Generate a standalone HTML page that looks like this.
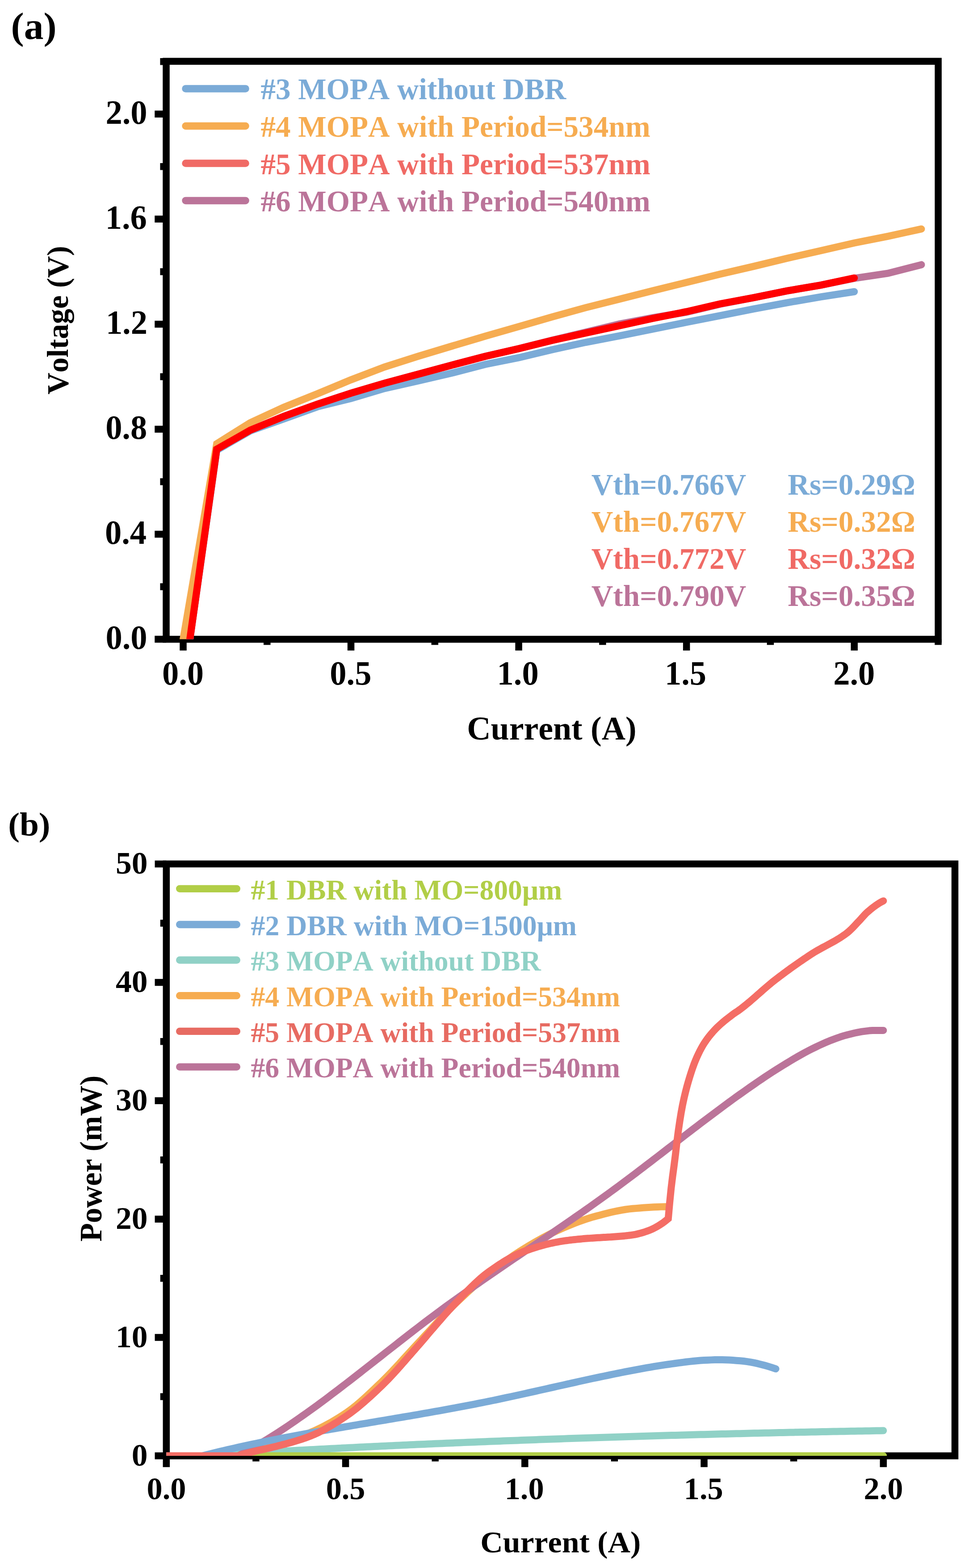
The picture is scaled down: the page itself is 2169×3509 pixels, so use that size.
<!DOCTYPE html>
<html lang="en"><head><meta charset="utf-8"><title>Figure: V-I and P-I characteristics</title>
<style>html,body{margin:0;padding:0;background:#fff}svg{display:block}text{font-family:"Liberation Serif", "DejaVu Serif", serif;font-weight:bold;white-space:pre;font-kerning:none}</style></head><body>
<svg xmlns="http://www.w3.org/2000/svg" width="2169" height="3509" viewBox="0 0 2169 3509">
<rect width="2169" height="3509" fill="#fff"/>
<defs>
<clipPath id="ca"><rect x="372" y="137.2" width="1728.1" height="1293.4"/></clipPath>
<clipPath id="cb"><rect x="372.3" y="1933.4" width="1765.2" height="1324.6"/></clipPath>
</defs>
<text transform="translate(24.57 87.2) scale(1.0251 1)" font-size="85.3" fill="#000">(a)</text>
<rect x="372" y="137.2" width="1728.1" height="1293.4" fill="none" stroke="#000" stroke-width="15.5"/>
<path d="M410 1430.6V1455.75M785.55 1430.6V1455.75M1161.1 1430.6V1455.75M1536.65 1430.6V1455.75M1912.2 1430.6V1455.75M597.77 1430.6V1443.15M973.33 1430.6V1443.15M1348.88 1430.6V1443.15M1724.42 1430.6V1443.15M2099.98 1430.6V1443.15M372 1430.6H346.25M372 1195.54H346.25M372 960.48H346.25M372 725.42H346.25M372 490.36H346.25M372 255.3H346.25M372 1313.07H358.45M372 1078.01H358.45M372 842.95H358.45M372 607.89H358.45M372 372.83H358.45M372 137.77H358.45" fill="none" stroke="#000" stroke-width="15.5"/>
<text transform="translate(362.96 1532) scale(0.9670 1)" font-size="77" fill="#000">0.0</text>
<text transform="translate(738.33 1532) scale(0.9670 1)" font-size="77" fill="#000">0.5</text>
<text transform="translate(1112.57 1532) scale(0.9670 1)" font-size="77" fill="#000">1.0</text>
<text transform="translate(1487.94 1532) scale(0.9670 1)" font-size="77" fill="#000">1.5</text>
<text transform="translate(1865.16 1532) scale(0.9670 1)" font-size="77" fill="#000">2.0</text>
<text transform="translate(236.5 1452.2) scale(0.9670 1)" font-size="77" fill="#000">0.0</text>
<text transform="translate(235.02 1217.14) scale(0.9670 1)" font-size="77" fill="#000">0.4</text>
<text transform="translate(236.13 982.08) scale(0.9670 1)" font-size="77" fill="#000">0.8</text>
<text transform="translate(236.88 747.02) scale(0.9670 1)" font-size="77" fill="#000">1.2</text>
<text transform="translate(235.76 511.96) scale(0.9670 1)" font-size="77" fill="#000">1.6</text>
<text transform="translate(236.5 276.9) scale(0.9670 1)" font-size="77" fill="#000">2.0</text>
<text transform="translate(1045.21 1654.9) scale(0.9876 1)" font-size="74.8" fill="#000">Current (A)</text>
<text transform="translate(151.8 882.68) rotate(-90) scale(1.0050 1)" font-size="67.3" fill="#000">Voltage (V)</text>
<g clip-path="url(#ca)">
<path d="M425.02 1430.6L485.11 1007.49L560.22 964.3L635.33 937.44L710.44 910.35L785.55 891.72L860.66 869.45L935.77 852.35L1010.88 835.08L1085.99 815.45L1161.1 800.46L1236.21 782.42L1311.32 766.03L1386.43 751.63L1461.54 736.29L1536.65 721.19L1611.76 706.32L1686.87 691.4L1761.98 677.29L1837.09 664.3L1912.2 652.73" fill="none" stroke="#7BABD7" stroke-width="16" stroke-linecap="round" stroke-linejoin="miter"/>
<path d="M425.02 1430.6L485.11 1005.38L560.22 962.6L635.33 931.8L710.44 904.54L785.55 879.8L860.66 857.58L935.77 837.54L1010.88 817.21L1085.99 797.47L1161.1 780.19L1236.21 761.27L1311.32 743.4L1386.43 725.18L1461.54 710.96L1536.65 698.62L1611.76 680.76L1686.87 666.07L1761.98 650.96L1837.09 638.04L1912.2 622.88L1987.31 611.71L2062.42 592.38" fill="none" stroke="#BB7499" stroke-width="16" stroke-linecap="round" stroke-linejoin="miter"/>
<path d="M410 1430.6L485.11 993.09L560.22 945.97L635.33 911.35L710.44 881.21L785.55 849.94L860.66 821.32L935.77 797.29L1010.88 774.78L1085.99 752.45L1161.1 730.83L1236.21 709.08L1311.32 688.4L1386.43 669.48L1461.54 650.61L1536.65 631.98L1611.76 613.41L1686.87 596.14L1761.98 577.98L1837.09 561L1912.2 543.72L1987.31 528.85L2062.42 512.4" fill="none" stroke="#F6AC51" stroke-width="16" stroke-linecap="round" stroke-linejoin="miter"/>
<path d="M425.02 1430.6L485.11 1005.38L560.22 962.6L635.33 931.8L710.44 904.54L785.55 879.8L860.66 857.58L935.77 837.54L1010.88 817.21L1085.99 797.47L1161.1 780.19L1236.21 761.8L1311.32 745.17L1386.43 728.83L1461.54 712.49L1536.65 697.45L1611.76 679.99L1686.87 666.07L1761.98 650.96L1837.09 638.04L1912.2 622.17" fill="none" stroke="#FF0000" stroke-width="16" stroke-linecap="round" stroke-linejoin="miter"/>
</g>
<line x1="415.55" y1="198.4" x2="549.55" y2="198.4" stroke="#7BABD7" stroke-width="16.5" stroke-linecap="round"/>
<text transform="translate(583.39 222.4) scale(0.9924 1)" font-size="67.6" fill="#7BABD7">#3 MOPA without DBR</text>
<line x1="415.55" y1="282" x2="549.55" y2="282" stroke="#F6AC51" stroke-width="16.5" stroke-linecap="round"/>
<text transform="translate(583.39 306) scale(0.9939 1)" font-size="67.6" fill="#F6AC51">#4 MOPA with Period=534nm</text>
<line x1="415.55" y1="365.5" x2="549.55" y2="365.5" stroke="#F06A65" stroke-width="16.5" stroke-linecap="round"/>
<text transform="translate(583.39 389.5) scale(0.9939 1)" font-size="67.6" fill="#F06A65">#5 MOPA with Period=537nm</text>
<line x1="415.55" y1="448.9" x2="549.55" y2="448.9" stroke="#BB7499" stroke-width="16.5" stroke-linecap="round"/>
<text transform="translate(583.39 472.9) scale(0.9939 1)" font-size="67.6" fill="#BB7499">#6 MOPA with Period=540nm</text>
<text transform="translate(1323.83 1106.8) scale(0.9990 1)" font-size="67.3" fill="#7BABD7">Vth=0.766V</text>
<text transform="translate(1763.29 1106.8) scale(1.0027 1)" font-size="67.3" fill="#7BABD7">Rs=0.29Ω</text>
<text transform="translate(1323.83 1189.8) scale(0.9990 1)" font-size="67.3" fill="#F6AC51">Vth=0.767V</text>
<text transform="translate(1763.29 1189.8) scale(1.0027 1)" font-size="67.3" fill="#F6AC51">Rs=0.32Ω</text>
<text transform="translate(1323.83 1273.2) scale(0.9990 1)" font-size="67.3" fill="#F06A65">Vth=0.772V</text>
<text transform="translate(1763.29 1273.2) scale(1.0027 1)" font-size="67.3" fill="#F06A65">Rs=0.32Ω</text>
<text transform="translate(1323.83 1356.3) scale(0.9990 1)" font-size="67.3" fill="#BB7499">Vth=0.790V</text>
<text transform="translate(1763.29 1356.3) scale(1.0027 1)" font-size="67.3" fill="#BB7499">Rs=0.35Ω</text>
<text transform="translate(18.23 1870) scale(1.0374 1)" font-size="74.4" fill="#000">(b)</text>
<rect x="372.3" y="1933.4" width="1765.2" height="1324.6" fill="none" stroke="#000" stroke-width="15.5"/>
<path d="M372.3 3258V3283.15M773.55 3258V3283.15M1174.8 3258V3283.15M1576.05 3258V3283.15M1977.3 3258V3283.15M572.92 3258V3270.55M974.17 3258V3270.55M1375.42 3258V3270.55M1776.67 3258V3270.55M372.3 3258H346.55M372.3 2993.1H346.55M372.3 2728.2H346.55M372.3 2463.3H346.55M372.3 2198.4H346.55M372.3 1933.5H346.55M372.3 3125.55H358.75M372.3 2860.65H358.75M372.3 2595.75H358.75M372.3 2330.85H358.75M372.3 2065.95H358.75" fill="none" stroke="#000" stroke-width="15.5"/>
<text transform="translate(328.56 3354.7)" font-size="70.3" fill="#000">0.0</text>
<text transform="translate(729.64 3354.7)" font-size="70.3" fill="#000">0.5</text>
<text transform="translate(1129.66 3354.7)" font-size="70.3" fill="#000">1.0</text>
<text transform="translate(1530.73 3354.7)" font-size="70.3" fill="#000">1.5</text>
<text transform="translate(1933.56 3354.7)" font-size="70.3" fill="#000">2.0</text>
<text transform="translate(294.69 3279.5) scale(1.0280 1)" font-size="69.6" fill="#000">0</text>
<text transform="translate(258.91 3014.6) scale(1.0280 1)" font-size="69.6" fill="#000">10</text>
<text transform="translate(258.91 2749.7) scale(1.0280 1)" font-size="69.6" fill="#000">20</text>
<text transform="translate(258.91 2484.8) scale(1.0280 1)" font-size="69.6" fill="#000">30</text>
<text transform="translate(258.91 2219.9) scale(1.0280 1)" font-size="69.6" fill="#000">40</text>
<text transform="translate(258.91 1955) scale(1.0280 1)" font-size="69.6" fill="#000">50</text>
<text transform="translate(1075.2 3473.6) scale(1.0179 1)" font-size="68.7" fill="#000">Current (A)</text>
<text transform="translate(227 2778.62) rotate(-90) scale(0.9839 1)" font-size="69.1" fill="#000">Power (mW)</text>
<g clip-path="url(#cb)">
<path d="M372.3 3258L452.55 3258L460.58 3257.51L468.6 3257.02L476.62 3256.53L484.65 3256.05L492.68 3255.57L500.7 3255.09L508.73 3254.61L516.75 3254.14L524.77 3253.67L532.8 3253.2L540.83 3252.73L548.85 3252.27L556.88 3251.8L564.9 3251.34L572.92 3250.89L580.95 3250.43L588.98 3249.98L597 3249.53L605.03 3249.08L613.05 3248.63L621.08 3248.19L629.1 3247.75L637.12 3247.31L645.15 3246.87L653.17 3246.44L661.2 3246L669.23 3245.57L677.25 3245.14L685.28 3244.72L693.3 3244.3L701.33 3243.87L709.35 3243.46L717.38 3243.04L725.4 3242.62L733.43 3242.21L741.45 3241.8L749.47 3241.39L757.5 3240.99L765.52 3240.58L773.55 3240.18L781.58 3239.78L789.6 3239.39L797.62 3238.99L805.65 3238.6L813.68 3238.21L821.7 3237.82L829.73 3237.44L837.75 3237.05L845.77 3236.67L853.8 3236.29L861.83 3235.91L869.85 3235.54L877.88 3235.16L885.9 3234.79L893.92 3234.42L901.95 3234.06L909.98 3233.69L918 3233.33L926.02 3232.97L934.05 3232.61L942.08 3232.25L950.1 3231.9L958.12 3231.55L966.15 3231.19L974.17 3230.85L982.2 3230.5L990.23 3230.16L998.25 3229.81L1006.28 3229.47L1014.3 3229.14L1022.33 3228.8L1030.35 3228.46L1038.38 3228.13L1046.4 3227.8L1054.42 3227.47L1062.45 3227.15L1070.47 3226.82L1078.5 3226.5L1086.53 3226.18L1094.55 3225.86L1102.58 3225.55L1110.6 3225.23L1118.62 3224.92L1126.65 3224.61L1134.67 3224.3L1142.7 3223.99L1150.72 3223.69L1158.75 3223.39L1166.78 3223.09L1174.8 3222.79L1182.83 3222.49L1190.85 3222.19L1198.88 3221.9L1206.9 3221.61L1214.92 3221.32L1222.95 3221.03L1230.98 3220.75L1239 3220.46L1247.03 3220.18L1255.05 3219.9L1263.08 3219.62L1271.1 3219.35L1279.12 3219.07L1287.15 3218.8L1295.18 3218.53L1303.2 3218.26L1311.23 3217.99L1319.25 3217.73L1327.28 3217.46L1335.3 3217.2L1343.33 3216.94L1351.35 3216.68L1359.38 3216.43L1367.4 3216.17L1375.43 3215.92L1383.45 3215.67L1391.48 3215.42L1399.5 3215.17L1407.53 3214.92L1415.55 3214.68L1423.58 3214.44L1431.6 3214.2L1439.62 3213.96L1447.65 3213.72L1455.67 3213.48L1463.7 3213.25L1471.73 3213.02L1479.75 3212.79L1487.78 3212.56L1495.8 3212.33L1503.83 3212.11L1511.85 3211.88L1519.88 3211.66L1527.9 3211.44L1535.93 3211.22L1543.95 3211L1551.98 3210.79L1560 3210.57L1568.03 3210.36L1576.05 3210.15L1584.08 3209.94L1592.1 3209.73L1600.12 3209.53L1608.15 3209.32L1616.17 3209.12L1624.2 3208.92L1632.22 3208.72L1640.25 3208.52L1648.28 3208.33L1656.3 3208.13L1664.33 3207.94L1672.35 3207.75L1680.38 3207.56L1688.4 3207.37L1696.42 3207.18L1704.45 3207L1712.48 3206.81L1720.5 3206.63L1728.53 3206.45L1736.55 3206.27L1744.58 3206.09L1752.6 3205.92L1760.63 3205.74L1768.65 3205.57L1776.68 3205.4L1784.7 3205.23L1792.72 3205.06L1800.75 3204.89L1808.78 3204.73L1816.8 3204.56L1824.83 3204.4L1832.85 3204.24L1840.88 3204.08L1848.9 3203.92L1856.92 3203.76L1864.95 3203.61L1872.98 3203.45L1881 3203.3L1889.03 3203.15L1897.05 3203L1905.08 3202.85L1913.1 3202.7L1921.12 3202.56L1929.15 3202.41L1937.18 3202.27L1945.2 3202.13L1953.23 3201.99L1961.25 3201.85L1969.28 3201.71L1977.3 3201.58" fill="none" stroke="#90D1C6" stroke-width="16" stroke-linecap="round" stroke-linejoin="round"/>
<path d="M372.3 3258L1977.3 3258" fill="none" stroke="#B1CE47" stroke-width="16" stroke-linecap="round" stroke-linejoin="round"/>
<path d="M372.3 3258L532.8 3258L540.83 3255.63L548.85 3253.23L556.88 3250.81L564.9 3248.37L572.92 3245.91L580.95 3243.43L588.98 3240.93L597 3238.4L605.03 3235.85L613.05 3233.29L621.08 3230.75L629.1 3228.26L637.12 3225.78L645.15 3223.3L653.17 3220.77L661.2 3218.17L669.23 3215.46L677.25 3212.61L685.28 3209.59L693.3 3206.37L701.33 3202.94L709.35 3199.29L717.38 3195.44L725.4 3191.38L733.42 3187.11L741.45 3182.64L749.48 3177.97L757.5 3173.09L765.52 3168.02L773.55 3162.75L781.58 3157.13L789.6 3151.07L797.62 3144.61L805.65 3137.81L813.68 3130.73L821.7 3123.41L829.73 3115.92L837.75 3108.3L845.78 3100.62L853.8 3092.93L861.83 3085.08L869.85 3076.95L877.88 3068.57L885.9 3060.01L893.92 3051.3L901.95 3042.52L909.98 3033.7L918 3024.9L926.02 3016.17L934.05 3007.57L942.08 2998.97L950.1 2990.29L958.12 2981.54L966.15 2972.79L974.17 2964.06L982.2 2955.41L990.23 2946.87L998.25 2938.49L1006.28 2930.3L1014.3 2922.35L1022.33 2914.58L1030.35 2906.89L1038.38 2899.31L1046.4 2891.83L1054.43 2884.49L1062.45 2877.29L1070.48 2870.25L1078.5 2863.39L1086.53 2856.71L1094.55 2850.23L1102.58 2843.92L1110.6 2837.71L1118.62 2831.63L1126.65 2825.67L1134.67 2819.86L1142.7 2814.19L1150.72 2808.68L1158.75 2803.34L1166.78 2798.17L1174.8 2793.19L1182.83 2788.34L1190.85 2783.6L1198.88 2778.95L1206.9 2774.43L1214.92 2770.04L1222.95 2765.79L1230.98 2761.7L1239 2757.76L1247.03 2754.01L1255.05 2750.44L1263.08 2747L1271.1 2743.64L1279.12 2740.36L1287.15 2737.18L1295.18 2734.13L1303.2 2731.21L1311.22 2728.45L1319.25 2725.86L1327.27 2723.45L1335.3 2721.24L1343.33 2719.14L1351.35 2717.06L1359.38 2715.04L1367.4 2713.09L1375.42 2711.26L1383.45 2709.58L1391.48 2708.06L1399.5 2706.74L1407.53 2705.64L1415.55 2704.81L1423.58 2704.12L1431.6 2703.46L1439.62 2702.83L1447.65 2702.25L1455.67 2701.73L1463.7 2701.27L1471.72 2700.9L1479.75 2700.62L1487.77 2700.45L1495.8 2700.39" fill="none" stroke="#F6AC51" stroke-width="16" stroke-linecap="round" stroke-linejoin="round"/>
<path d="M372.3 3258L532.8 3258L540.83 3253.73L548.85 3249.36L556.88 3244.92L564.9 3240.39L572.92 3235.78L580.95 3231.09L588.98 3226.33L597 3221.49L605.03 3216.58L613.05 3211.6L621.08 3206.52L629.1 3201.33L637.12 3196.04L645.15 3190.65L653.17 3185.18L661.2 3179.65L669.23 3174.05L677.25 3168.41L685.28 3162.73L693.3 3157.02L701.33 3151.26L709.35 3145.42L717.38 3139.51L725.4 3133.55L733.42 3127.53L741.45 3121.47L749.48 3115.38L757.5 3109.27L765.52 3103.14L773.55 3097.01L781.58 3090.85L789.6 3084.65L797.62 3078.4L805.65 3072.13L813.68 3065.83L821.7 3059.53L829.73 3053.21L837.75 3046.9L845.78 3040.61L853.8 3034.33L861.83 3028.06L869.85 3021.77L877.88 3015.48L885.9 3009.19L893.92 3002.9L901.95 2996.63L909.98 2990.37L918 2984.13L926.02 2977.92L934.05 2971.74L942.08 2965.59L950.1 2959.47L958.12 2953.39L966.15 2947.34L974.17 2941.34L982.2 2935.37L990.23 2929.44L998.25 2923.55L1006.28 2917.7L1014.3 2911.9L1022.33 2906.13L1030.35 2900.4L1038.38 2894.7L1046.4 2889.02L1054.43 2883.36L1062.45 2877.73L1070.48 2872.12L1078.5 2866.52L1086.53 2860.94L1094.55 2855.38L1102.58 2849.83L1110.6 2844.32L1118.62 2838.82L1126.65 2833.35L1134.67 2827.89L1142.7 2822.44L1150.72 2817L1158.75 2811.55L1166.78 2806.11L1174.8 2800.65L1182.83 2795.19L1190.85 2789.75L1198.88 2784.31L1206.9 2778.88L1214.92 2773.45L1222.95 2768.01L1230.98 2762.55L1239 2757.09L1247.03 2751.6L1255.05 2746.09L1263.08 2740.55L1271.1 2735.01L1279.12 2729.46L1287.15 2723.9L1295.18 2718.31L1303.2 2712.71L1311.22 2707.09L1319.25 2701.44L1327.27 2695.77L1335.3 2690.08L1343.33 2684.34L1351.35 2678.57L1359.38 2672.75L1367.4 2666.9L1375.42 2661.02L1383.45 2655.1L1391.48 2649.14L1399.5 2643.15L1407.53 2637.14L1415.55 2631.1L1423.58 2625.04L1431.6 2618.94L1439.62 2612.83L1447.65 2606.69L1455.67 2600.54L1463.7 2594.38L1471.72 2588.22L1479.75 2582.05L1487.77 2575.86L1495.8 2569.68L1503.82 2563.5L1511.85 2557.31L1519.88 2551.12L1527.9 2544.92L1535.92 2538.74L1543.95 2532.57L1551.97 2526.42L1560 2520.29L1568.02 2514.2L1576.05 2508.14L1584.08 2502.1L1592.1 2496.06L1600.12 2490.04L1608.15 2484.04L1616.17 2478.06L1624.2 2472.12L1632.22 2466.23L1640.25 2460.38L1648.28 2454.6L1656.3 2448.88L1664.32 2443.2L1672.35 2437.54L1680.37 2431.9L1688.4 2426.31L1696.42 2420.77L1704.45 2415.3L1712.47 2409.9L1720.5 2404.59L1728.52 2399.39L1736.55 2394.3L1744.57 2389.28L1752.6 2384.29L1760.62 2379.36L1768.65 2374.49L1776.67 2369.7L1784.7 2365.02L1792.72 2360.46L1800.75 2356.03L1808.78 2351.76L1816.8 2347.66L1824.83 2343.7L1832.85 2339.86L1840.88 2336.17L1848.9 2332.65L1856.92 2329.33L1864.95 2326.23L1872.97 2323.27L1881 2320.47L1889.02 2317.91L1897.05 2315.68L1905.07 2313.67L1913.1 2311.78L1921.12 2310.09L1929.15 2308.66L1937.17 2307.56L1945.2 2306.6L1953.22 2305.99L1961.25 2305.95L1969.27 2305.95L1977.3 2305.95" fill="none" stroke="#BB7499" stroke-width="16" stroke-linecap="round" stroke-linejoin="round"/>
<path d="M372.3 3258L452.55 3258L460.58 3255.97L468.6 3253.96L476.62 3251.99L484.65 3250.05L492.68 3248.13L500.7 3246.24L508.73 3244.37L516.75 3242.52L524.77 3240.69L532.8 3238.88L540.83 3237.1L548.85 3235.34L556.88 3233.61L564.9 3231.9L572.92 3230.21L580.95 3228.54L588.98 3226.89L597 3225.25L605.02 3223.64L613.05 3222.05L621.07 3220.48L629.1 3218.92L637.12 3217.38L645.15 3215.85L653.17 3214.33L661.2 3212.83L669.23 3211.34L677.25 3209.85L685.28 3208.38L693.3 3206.92L701.32 3205.48L709.35 3204.04L717.38 3202.62L725.4 3201.21L733.42 3199.81L741.45 3198.42L749.47 3197.03L757.5 3195.65L765.52 3194.27L773.55 3192.9L781.57 3191.53L789.6 3190.16L797.62 3188.81L805.65 3187.46L813.67 3186.11L821.7 3184.77L829.72 3183.42L837.75 3182.08L845.77 3180.73L853.8 3179.38L861.82 3178.02L869.85 3176.67L877.88 3175.32L885.9 3173.97L893.92 3172.62L901.95 3171.26L909.97 3169.9L918 3168.53L926.02 3167.15L934.05 3165.77L942.07 3164.37L950.1 3162.97L958.12 3161.57L966.15 3160.15L974.17 3158.74L982.2 3157.31L990.22 3155.87L998.25 3154.41L1006.27 3152.95L1014.3 3151.46L1022.32 3149.97L1030.35 3148.46L1038.38 3146.94L1046.4 3145.4L1054.42 3143.85L1062.45 3142.29L1070.47 3140.71L1078.5 3139.11L1086.52 3137.51L1094.55 3135.88L1102.57 3134.23L1110.6 3132.56L1118.62 3130.87L1126.65 3129.16L1134.67 3127.44L1142.7 3125.7L1150.72 3123.96L1158.75 3122.21L1166.77 3120.45L1174.8 3118.69L1182.82 3116.93L1190.85 3115.15L1198.87 3113.35L1206.9 3111.55L1214.92 3109.74L1222.95 3107.93L1230.97 3106.12L1239 3104.32L1247.02 3102.52L1255.05 3100.73L1263.07 3098.95L1271.1 3097.16L1279.12 3095.37L1287.15 3093.58L1295.17 3091.8L1303.2 3090.03L1311.22 3088.27L1319.25 3086.52L1327.27 3084.8L1335.3 3083.09L1343.33 3081.41L1351.35 3079.72L1359.38 3078.05L1367.4 3076.38L1375.42 3074.73L1383.45 3073.11L1391.48 3071.51L1399.5 3069.93L1407.52 3068.39L1415.55 3066.89L1423.57 3065.4L1431.6 3063.92L1439.62 3062.45L1447.65 3060.99L1455.67 3059.57L1463.7 3058.18L1471.72 3056.84L1479.75 3055.57L1487.77 3054.35L1495.8 3053.22L1503.82 3052.11L1511.85 3051L1519.88 3049.89L1527.9 3048.81L1535.92 3047.78L1543.95 3046.83L1551.97 3045.96L1560 3045.2L1568.02 3044.58L1576.05 3044.11L1584.07 3043.72L1592.1 3043.37L1600.12 3043.1L1608.15 3042.96L1616.17 3043.02L1624.2 3043.24L1632.22 3043.61L1640.25 3044.09L1648.27 3044.65L1656.3 3045.26L1664.32 3046.02L1672.35 3047.07L1680.37 3048.37L1688.4 3049.91L1696.42 3051.68L1704.45 3053.66L1712.47 3055.83L1720.5 3058.17L1728.52 3060.67L1736.55 3063.3" fill="none" stroke="#7BABD7" stroke-width="16" stroke-linecap="round" stroke-linejoin="round"/>
<path d="M372.3 3258L532.8 3258L536.01 3257.08L539.22 3256.17L542.43 3255.27L545.64 3254.37L548.85 3253.49L552.06 3252.62L555.27 3251.76L558.48 3250.91L561.69 3250.07L564.9 3249.24L568.11 3248.43L571.32 3247.62L574.53 3246.83L577.74 3246.06L580.95 3245.32L584.16 3244.6L587.37 3243.89L590.58 3243.19L593.79 3242.49L597 3241.78L600.21 3241.07L603.42 3240.34L606.63 3239.6L609.84 3238.83L613.05 3238.03L616.26 3237.21L619.47 3236.39L622.68 3235.58L625.89 3234.76L629.1 3233.93L632.31 3233.1L635.52 3232.26L638.73 3231.42L641.94 3230.56L645.15 3229.69L648.36 3228.81L651.57 3227.92L654.78 3227L657.99 3226.07L661.2 3225.13L664.41 3224.16L667.62 3223.17L670.83 3222.15L674.04 3221.11L677.25 3220.05L680.46 3218.95L683.67 3217.83L686.88 3216.68L690.09 3215.49L693.3 3214.27L696.51 3213.01L699.72 3211.69L702.93 3210.31L706.14 3208.89L709.35 3207.42L712.56 3205.9L715.77 3204.33L718.98 3202.71L722.19 3201.06L725.4 3199.36L728.61 3197.62L731.82 3195.84L735.03 3194.03L738.24 3192.18L741.45 3190.3L744.66 3188.38L747.87 3186.43L751.08 3184.45L754.29 3182.45L757.5 3180.42L760.71 3178.36L763.92 3176.29L767.13 3174.18L770.34 3172.06L773.55 3169.93L776.76 3167.75L779.97 3165.51L783.18 3163.21L786.39 3160.85L789.6 3158.44L792.81 3155.97L796.02 3153.46L799.23 3150.89L802.44 3148.28L805.65 3145.63L808.86 3142.93L812.07 3140.19L815.28 3137.42L818.49 3134.6L821.7 3131.76L824.91 3128.88L828.12 3125.98L831.33 3123.04L834.54 3120.08L837.75 3117.1L840.96 3114.1L844.17 3111.08L847.38 3108.04L850.59 3104.99L853.8 3101.92L857.01 3098.82L860.22 3095.66L863.43 3092.44L866.64 3089.17L869.85 3085.84L873.06 3082.47L876.27 3079.06L879.48 3075.61L882.69 3072.11L885.9 3068.59L889.11 3065.03L892.32 3061.44L895.53 3057.84L898.74 3054.21L901.95 3050.56L905.16 3046.89L908.37 3043.22L911.58 3039.54L914.79 3035.85L918 3032.16L921.21 3028.48L924.42 3024.8L927.63 3021.12L930.84 3017.46L934.05 3013.81L937.26 3010.16L940.47 3006.46L943.68 3002.74L946.89 2999L950.1 2995.24L953.31 2991.47L956.52 2987.69L959.73 2983.92L962.94 2980.15L966.15 2976.4L969.36 2972.67L972.57 2968.96L975.78 2965.28L978.99 2961.59L982.2 2957.88L985.41 2954.16L988.62 2950.45L991.83 2946.76L995.04 2943.08L998.25 2939.43L1001.46 2935.82L1004.67 2932.26L1007.88 2928.75L1011.09 2925.3L1014.3 2921.92L1017.51 2918.58L1020.72 2915.22L1023.93 2911.87L1027.14 2908.51L1030.35 2905.15L1033.56 2901.81L1036.77 2898.47L1039.98 2895.16L1043.19 2891.87L1046.4 2888.6L1049.61 2885.36L1052.82 2882.16L1056.03 2879L1059.24 2875.88L1062.45 2872.81L1065.66 2869.8L1068.87 2866.84L1072.08 2863.94L1075.29 2861.11L1078.5 2858.35L1081.71 2855.66L1084.92 2853.06L1088.13 2850.54L1091.34 2848.1L1094.55 2845.76L1097.76 2843.48L1100.97 2841.21L1104.18 2838.98L1107.39 2836.76L1110.6 2834.58L1113.81 2832.42L1117.02 2830.3L1120.23 2828.21L1123.44 2826.16L1126.65 2824.14L1129.86 2822.16L1133.07 2820.23L1136.28 2818.34L1139.49 2816.49L1142.7 2814.69L1145.91 2812.94L1149.12 2811.25L1152.33 2809.6L1155.54 2808.02L1158.75 2806.49L1161.96 2805.02L1165.17 2803.61L1168.38 2802.27L1171.59 2800.99L1174.8 2799.78L1178.01 2798.61L1181.22 2797.47L1184.43 2796.35L1187.64 2795.25L1190.85 2794.18L1194.06 2793.13L1197.27 2792.1L1200.48 2791.1L1203.69 2790.13L1206.9 2789.18L1210.11 2788.25L1213.32 2787.35L1216.53 2786.48L1219.74 2785.63L1222.95 2784.81L1226.16 2784.02L1229.37 2783.25L1232.58 2782.51L1235.79 2781.81L1239 2781.12L1242.21 2780.47L1245.42 2779.85L1248.63 2779.26L1251.84 2778.69L1255.05 2778.16L1258.26 2777.65L1261.47 2777.17L1264.68 2776.7L1267.89 2776.25L1271.1 2775.83L1274.31 2775.41L1277.52 2775.02L1280.73 2774.64L1283.94 2774.28L1287.15 2773.93L1290.36 2773.59L1293.57 2773.27L1296.78 2772.96L1299.99 2772.66L1303.2 2772.36L1306.41 2772.09L1309.62 2771.83L1312.83 2771.58L1316.04 2771.34L1319.25 2771.11L1322.46 2770.89L1325.67 2770.67L1328.88 2770.46L1332.09 2770.25L1335.3 2770.04L1338.51 2769.83L1341.72 2769.64L1344.93 2769.46L1348.14 2769.28L1351.35 2769.1L1354.56 2768.93L1357.77 2768.75L1360.98 2768.57L1364.19 2768.38L1367.4 2768.19L1370.61 2767.98L1373.82 2767.76L1377.03 2767.52L1380.24 2767.28L1383.45 2767.03L1386.66 2766.77L1389.87 2766.51L1393.08 2766.23L1396.29 2765.93L1399.5 2765.62L1402.71 2765.28L1405.92 2764.92L1409.13 2764.53L1412.34 2764.11L1415.55 2763.66L1418.76 2763.15L1421.97 2762.56L1425.18 2761.89L1428.39 2761.14L1431.6 2760.33L1434.81 2759.46L1438.02 2758.52L1441.23 2757.54L1444.44 2756.5L1447.65 2755.42L1450.86 2754.3L1454.07 2753.11L1457.28 2751.77L1460.49 2750.29L1463.7 2748.69L1466.91 2746.98L1470.12 2745.18L1473.33 2743.31L1476.54 2741.37L1479.75 2739.37L1482.96 2737.19L1486.17 2734.86L1489.38 2732.39L1492.59 2729.81L1495.8 2727.14L1499.01 2691.41L1502.22 2659.76L1505.43 2633.27L1508.64 2609.66L1511.85 2584.48L1515.06 2556.56L1518.27 2531.42L1521.48 2509.64L1524.69 2489.84L1527.9 2472.49L1531.11 2457.61L1534.32 2444.14L1537.53 2431.83L1540.74 2420.44L1543.95 2409.78L1547.16 2399.63L1550.37 2390.06L1553.58 2381.19L1556.79 2373.04L1560 2365.62L1563.21 2358.65L1566.42 2352.09L1569.63 2345.97L1572.84 2340.32L1576.05 2335.15L1579.26 2330.33L1582.47 2325.76L1585.68 2321.42L1588.89 2317.31L1592.1 2313.41L1595.31 2309.69L1598.52 2306.16L1601.73 2302.79L1604.94 2299.56L1608.15 2296.47L1611.36 2293.49L1614.57 2290.62L1617.78 2287.85L1620.99 2285.17L1624.2 2282.55L1627.41 2280L1630.62 2277.5L1633.83 2275.04L1637.04 2272.61L1640.25 2270.19L1643.46 2267.87L1646.67 2265.68L1649.88 2263.54L1653.09 2261.36L1656.3 2259.06L1659.51 2256.64L1662.72 2254.16L1665.93 2251.63L1669.14 2249.04L1672.35 2246.4L1675.56 2243.73L1678.77 2241.02L1681.98 2238.27L1685.19 2235.5L1688.4 2232.71L1691.61 2229.9L1694.82 2227.09L1698.03 2224.26L1701.24 2221.44L1704.45 2218.62L1707.66 2215.81L1710.87 2213.01L1714.08 2210.24L1717.29 2207.48L1720.5 2204.76L1723.71 2202.08L1726.92 2199.43L1730.13 2196.83L1733.34 2194.27L1736.55 2191.78L1739.76 2189.32L1742.97 2186.87L1746.18 2184.44L1749.39 2182.03L1752.6 2179.62L1755.81 2177.24L1759.02 2174.87L1762.23 2172.51L1765.44 2170.17L1768.65 2167.84L1771.86 2165.53L1775.07 2163.24L1778.28 2160.96L1781.49 2158.7L1784.7 2156.45L1787.91 2154.21L1791.12 2152L1794.33 2149.79L1797.54 2147.61L1800.75 2145.44L1803.96 2143.28L1807.17 2141.14L1810.38 2139.02L1813.59 2136.91L1816.8 2134.82L1820.01 2132.78L1823.22 2130.8L1826.43 2128.88L1829.64 2127.01L1832.85 2125.18L1836.06 2123.39L1839.27 2121.64L1842.48 2119.9L1845.69 2118.18L1848.9 2116.47L1852.11 2114.77L1855.32 2113.05L1858.53 2111.32L1861.74 2109.57L1864.95 2107.79L1868.16 2105.98L1871.37 2104.13L1874.58 2102.22L1877.79 2100.26L1881 2098.23L1884.21 2096.13L1887.42 2093.96L1890.63 2091.69L1893.84 2089.33L1897.05 2086.88L1900.26 2084.21L1903.47 2081.28L1906.68 2078.13L1909.89 2074.83L1913.1 2071.42L1916.31 2067.98L1919.52 2064.54L1922.73 2061.18L1925.94 2057.76L1929.15 2054.18L1932.36 2050.57L1935.57 2047.05L1938.78 2043.75L1941.99 2040.78L1945.2 2038.06L1948.41 2035.39L1951.62 2032.8L1954.83 2030.3L1958.04 2027.89L1961.25 2025.59L1964.46 2023.41L1967.67 2021.37L1970.88 2019.47L1974.09 2017.73L1977.3 2016.15" fill="none" stroke="#F46D65" stroke-width="16" stroke-linecap="round" stroke-linejoin="miter"/>
</g>
<line x1="402.15" y1="1988.8" x2="529.85" y2="1988.8" stroke="#B1CE47" stroke-width="16.3" stroke-linecap="round"/>
<text transform="translate(561.55 2012.6) scale(0.9901 1)" font-size="64.3" fill="#B1CE47">#1 DBR with MO=800μm</text>
<line x1="402.15" y1="2069" x2="529.85" y2="2069" stroke="#7BABD7" stroke-width="16.3" stroke-linecap="round"/>
<text transform="translate(561.54 2092.8) scale(0.9916 1)" font-size="64.3" fill="#7BABD7">#2 DBR with MO=1500μm</text>
<line x1="402.15" y1="2148.5" x2="529.85" y2="2148.5" stroke="#90D1C6" stroke-width="16.3" stroke-linecap="round"/>
<text transform="translate(561.54 2172.3) scale(0.9905 1)" font-size="64.3" fill="#90D1C6">#3 MOPA without DBR</text>
<line x1="402.15" y1="2228.2" x2="529.85" y2="2228.2" stroke="#F6AC51" stroke-width="16.3" stroke-linecap="round"/>
<text transform="translate(561.55 2252) scale(0.9901 1)" font-size="64.3" fill="#F6AC51">#4 MOPA with Period=534nm</text>
<line x1="402.15" y1="2307.9" x2="529.85" y2="2307.9" stroke="#E76B62" stroke-width="16.3" stroke-linecap="round"/>
<text transform="translate(561.55 2331.7) scale(0.9901 1)" font-size="64.3" fill="#E76B62">#5 MOPA with Period=537nm</text>
<line x1="402.15" y1="2387.6" x2="529.85" y2="2387.6" stroke="#BB7499" stroke-width="16.3" stroke-linecap="round"/>
<text transform="translate(561.55 2411.4) scale(0.9901 1)" font-size="64.3" fill="#BB7499">#6 MOPA with Period=540nm</text>
</svg></body></html>
